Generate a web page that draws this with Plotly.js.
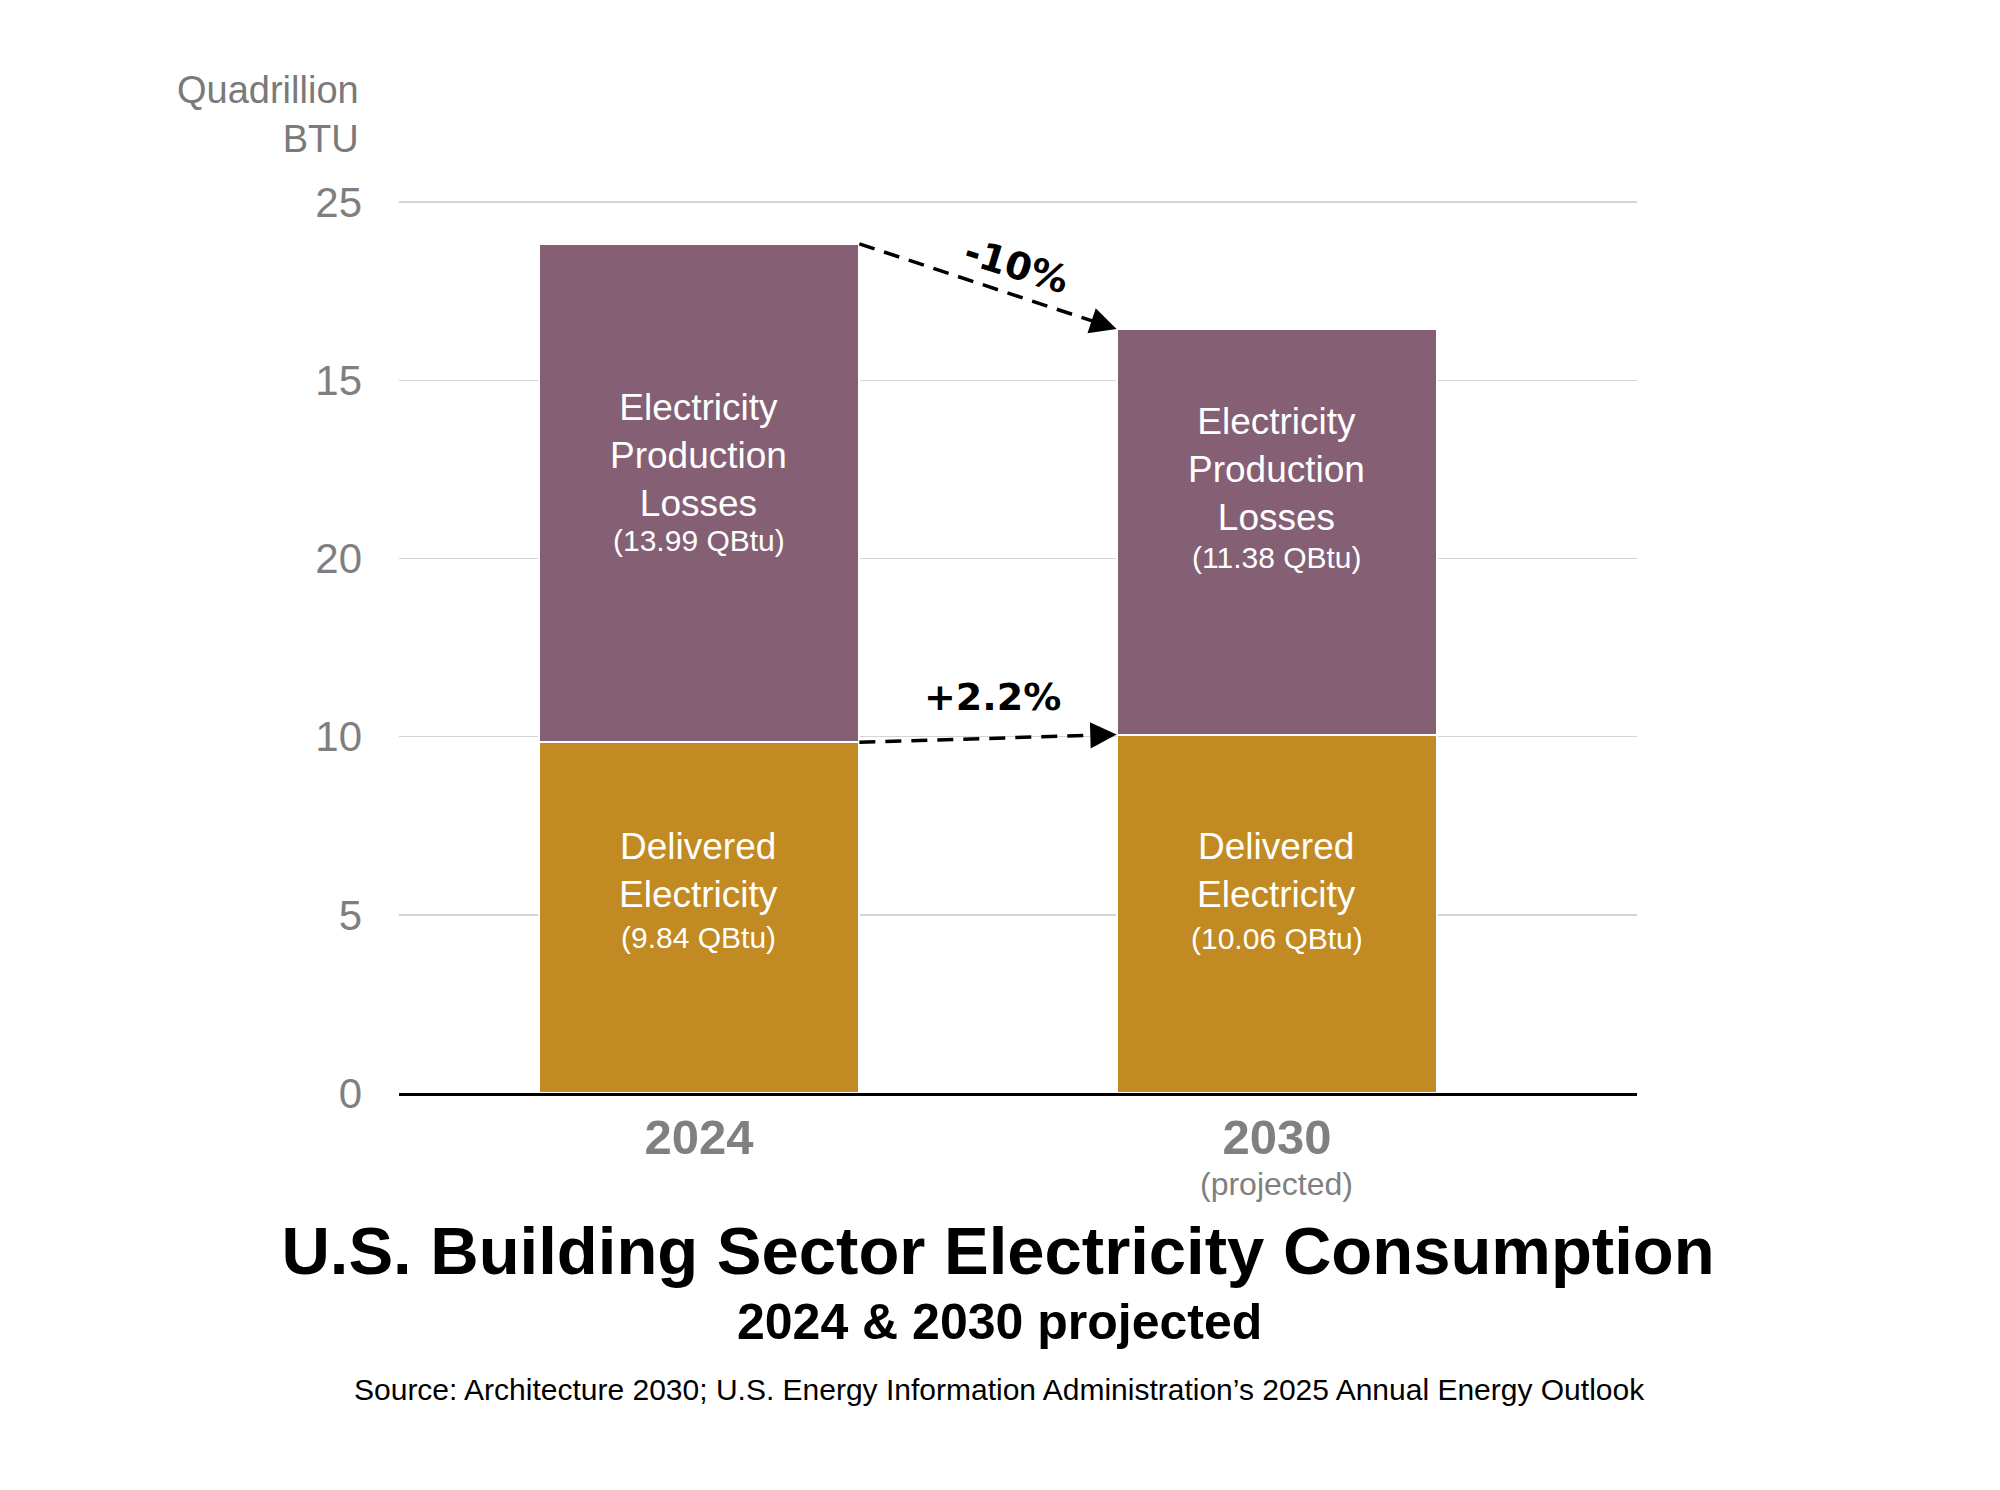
<!DOCTYPE html>
<html><head><meta charset="utf-8">
<script src="https://cdn.plot.ly/plotly-3.0.1.min.js"></script>
<style>html,body{margin:0;padding:0;background:#fff;} #chart{width:2000px;height:1490px;}</style>
</head><body><div id="chart"></div>
<script>
// ---- data ----
const categories = ['2024', '2030'];
const categorySubLabels = ['', '(projected)'];
const deliveredElectricity = [9.84, 10.06];
const productionLosses = [13.99, 11.38];
const totalChangeLabel = '-10%';
const deliveredChangeLabel = '+2.2%';
const yTickVals = [0, 5, 10, 15, 20, 25];
const yTickText = ['0', '5', '10', '20', '15', '25'];
const lossesLabel = 'Electricity<br>Production<br>Losses';
const deliveredLabel = 'Delivered<br>Electricity';

// ---- style ----
const FONT = 'Liberation Sans, Arial, Helvetica, sans-serif';
const GOLD = '#C28A22';
const PURPLE = '#855F74';
const BAR_W = 0.555;
const lossShift = [38, 62], lossValShift = [-47, -26];
const delShift = [47, 43], delValShift = [-20, -25];

const xPos = categories.map((c, i) => i);
const totals = deliveredElectricity.map((d, i) => d + productionLosses[i]);

const traces = [
  {type: 'bar', x: xPos, y: deliveredElectricity, width: BAR_W, name: 'Delivered Electricity',
   marker: {color: GOLD, line: {color: '#ffffff', width: 2}}, hoverinfo: 'skip'},
  {type: 'bar', x: xPos, y: productionLosses, width: BAR_W, name: 'Electricity Production Losses',
   marker: {color: PURPLE, line: {color: '#ffffff', width: 2}}, hoverinfo: 'skip'}
];

const annotations = [];

function changeArrow(y0, y1, label, dx, dy, angle) {
  const xs = BAR_W / 2, xe = 1 - BAR_W / 2;
  const f = 0.94;
  traces.push({type: 'scatter', mode: 'lines', x: [xs, xs + f * (xe - xs)], y: [y0, y0 + f * (y1 - y0)],
    line: {color: '#000', width: 3.5, dash: '16px,10px'}, hoverinfo: 'skip', showlegend: false});
  annotations.push({x: xe, y: y1, xref: 'x', yref: 'y', ax: xs + 0.9 * (xe - xs), ay: y0 + 0.9 * (y1 - y0),
    axref: 'x', ayref: 'y', showarrow: true, arrowhead: 2, arrowsize: 1.5, arrowwidth: 3.5,
    arrowcolor: '#000', text: ''});
  annotations.push({x: (xs + xe) / 2, y: (y0 + y1) / 2, xref: 'x', yref: 'y', xshift: dx, yshift: dy,
    text: '<b>' + label + '</b>', showarrow: false, textangle: angle,
    font: {family: 'DejaVu Sans, sans-serif', size: 38, color: '#000'}});
}
changeArrow(totals[0], totals[1], totalChangeLabel, 29, 20, 17);
changeArrow(deliveredElectricity[0], deliveredElectricity[1], deliveredChangeLabel, 5, 41, 0);

xPos.forEach((x, i) => {
  const lMid = deliveredElectricity[i] + productionLosses[i] / 2;
  const dMid = deliveredElectricity[i] / 2;
  annotations.push({x: x, y: lMid, xref: 'x', yref: 'y', yshift: lossShift[i], text: lossesLabel,
    showarrow: false, font: {family: FONT, size: 37, color: '#fff'}, align: 'center'});
  annotations.push({x: x, y: lMid, xref: 'x', yref: 'y', yshift: lossValShift[i],
    text: '(' + productionLosses[i].toFixed(2) + ' QBtu)', showarrow: false,
    font: {family: FONT, size: 30, color: '#fff'}});
  annotations.push({x: x, y: dMid, xref: 'x', yref: 'y', yshift: delShift[i], text: deliveredLabel,
    showarrow: false, font: {family: FONT, size: 37, color: '#fff'}, align: 'center'});
  annotations.push({x: x, y: dMid, xref: 'x', yref: 'y', yshift: delValShift[i],
    text: '(' + deliveredElectricity[i].toFixed(2) + ' QBtu)', showarrow: false,
    font: {family: FONT, size: 30, color: '#fff'}});
  if (categorySubLabels[i]) {
    annotations.push({x: x, y: -0.1021, xref: 'x', yref: 'paper', yanchor: 'middle',
      text: categorySubLabels[i], showarrow: false, font: {family: FONT, size: 32, color: '#808080'}});
  }
});

annotations.push({x: -0.0307, y: 1.0955, xref: 'paper', yref: 'paper', xanchor: 'right', yanchor: 'middle',
  align: 'right', text: 'Quadrillion<br>BTU', showarrow: false, font: {family: FONT, size: 38, color: '#7a7a7a'}});
annotations.push({x: 0.4847, y: -0.2559, xref: 'paper', yref: 'paper', xanchor: 'center', yanchor: 'middle',
  text: '<b>2024 &amp; 2030 projected</b>', showarrow: false, font: {family: FONT, size: 50, color: '#000'}});
annotations.push({x: 0.4847, y: -0.3322, xref: 'paper', yref: 'paper', xanchor: 'center', yanchor: 'middle',
  text: 'Source: Architecture 2030; U.S. Energy Information Administration’s 2025 Annual Energy Outlook',
  showarrow: false, font: {family: FONT, size: 30, color: '#000'}});

const layout = {
  width: 2000, height: 1490,
  margin: {l: 399, r: 363, t: 200, b: 397, pad: 0},
  paper_bgcolor: '#fff', plot_bgcolor: '#fff',
  barmode: 'stack', showlegend: false,
  font: {family: FONT},
  title: {text: '<b>U.S. Building Sector Electricity Consumption</b>',
    font: {family: FONT, size: 67, color: '#000'},
    x: 0.499, xref: 'container', xanchor: 'center', y: 0.1604, yref: 'container', yanchor: 'middle'},
  xaxis: {range: [-0.519, 1.623], tickvals: xPos, ticktext: categories.map(c => '<b>' + c + '</b>'),
    tickfont: {family: FONT, size: 49, color: '#808080'}, showline: true, linecolor: '#000', linewidth: 2.5,
    showgrid: false, zeroline: false, ticks: '', ticklabelstandoff: 0, fixedrange: true},
  yaxis: {range: [0, 25.06], tickvals: yTickVals, ticktext: yTickText,
    tickfont: {family: FONT, size: 42, color: '#7f7f7f'}, gridcolor: '#d4d4d4', gridwidth: 1.5,
    zeroline: false, showline: false, ticks: '', ticklabelstandoff: 36, fixedrange: true},
  annotations: annotations
};

Plotly.newPlot('chart', traces, layout, {staticPlot: true});
</script>
</body></html>
